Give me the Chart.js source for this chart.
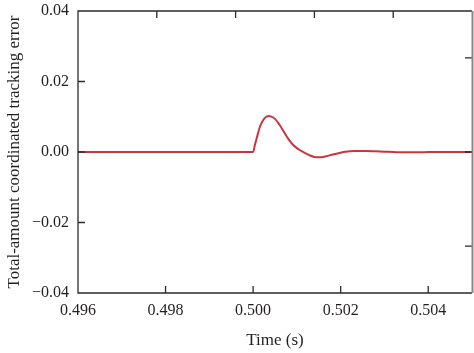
<!DOCTYPE html>
<html>
<head>
<meta charset="utf-8">
<script src="https://cdn.jsdelivr.net/npm/chart.js@4"></script>
<style>
  html, body { margin: 0; padding: 0; background: #fff; }
  #wrap { width: 474px; height: 353px; }
</style>
</head>
<body>
<div id="wrap"><canvas id="error-chart" width="474" height="353"></canvas></div>
<script>
// Datos
const times = [
  0.496, 0.4995, 0.5, 0.50004, 0.50008, 0.50012, 0.50016, 0.5002, 0.50025,
  0.5003, 0.50036, 0.5004, 0.5005, 0.5006, 0.5007, 0.5008, 0.5009, 0.501,
  0.5011, 0.5012, 0.5013, 0.5014, 0.5015, 0.5016, 0.5017, 0.5018, 0.5019,
  0.502, 0.5021, 0.5022, 0.5023, 0.5024, 0.5025, 0.5026, 0.5028, 0.503,
  0.5032, 0.5034, 0.5036, 0.5038, 0.504, 0.505
];
const errors = [
  0, 0, 0, 0.002, 0.0038, 0.0057, 0.0073, 0.0084, 0.0094,
  0.01, 0.0102, 0.0101, 0.0094, 0.0078, 0.0058, 0.0038, 0.0022, 0.0011,
  0.0003, -0.0004, -0.001, -0.0014, -0.0015, -0.0014, -0.0011, -0.0008, -0.0005,
  -0.0002, 0.0001, 0.0002, 0.0003, 0.0003, 0.0003, 0.0003, 0.0002, 0.0001,
  0, -0.0001, -0.0001, -0.0001, 0, 0
];

// Ejes
const xTicks = [0.496, 0.498, 0.5, 0.502, 0.504];
const xTopTicks = [0.4978, 0.4996, 0.5014, 0.5032];
const yTicks = [-0.04, -0.02, 0, 0.02, 0.04];
const yRightTicks = [-0.0267, 0, 0.0267];

const serif = "'Liberation Serif', 'DejaVu Serif', serif";
const textColor = "#231f20";

// Marco y marcas hacia adentro
const framePlugin = {
  id: "frame",
  afterDatasetsDraw(chart) {
    const { ctx, chartArea: a, scales } = chart;
    const len = 7;
    ctx.save();
    ctx.strokeStyle = "#2b2b2b";
    ctx.lineWidth = 1.3;
    ctx.beginPath();
    ctx.moveTo(a.right, a.top);
    ctx.lineTo(a.left, a.top);
    ctx.lineTo(a.left, a.bottom);
    ctx.lineTo(a.right, a.bottom);
    xTicks.forEach((v) => {
      const px = scales.x.getPixelForValue(v);
      ctx.moveTo(px, a.bottom);
      ctx.lineTo(px, a.bottom - len);
    });
    xTopTicks.forEach((v) => {
      const px = scales.x.getPixelForValue(v);
      ctx.moveTo(px, a.top);
      ctx.lineTo(px, a.top + len);
    });
    yTicks.forEach((v) => {
      const py = scales.y.getPixelForValue(v);
      ctx.moveTo(a.left, py);
      ctx.lineTo(a.left + len, py);
    });
    yRightTicks.forEach((v) => {
      const py = scales.y.getPixelForValue(v);
      ctx.moveTo(a.right, py);
      ctx.lineTo(a.right - len, py);
    });
    ctx.stroke();
    ctx.strokeStyle = "#888";
    ctx.lineWidth = 2;
    ctx.beginPath();
    ctx.moveTo(a.right + 0.5, a.top);
    ctx.lineTo(a.right + 0.5, a.bottom);
    ctx.stroke();
    ctx.restore();
  },
};

function initChart() {
  const ctx = document.getElementById("error-chart").getContext("2d");
  new Chart(ctx, {
    type: "scatter",
    data: {
      datasets: [
        {
          data: times.map((t, i) => ({ x: t, y: errors[i] })),
          showLine: true,
          borderColor: "#c8353f",
          borderWidth: 2,
          pointRadius: 0,
          cubicInterpolationMode: "monotone",
        },
      ],
    },
    options: {
      responsive: false,
      animation: false,
      layout: { padding: { top: 11, right: 2, left: 0, bottom: 0 } },
      plugins: { legend: { display: false }, tooltip: { enabled: false } },
      scales: {
        x: {
          type: "linear",
          min: 0.496,
          max: 0.505,
          afterBuildTicks: (scale) => {
            scale.ticks = xTicks.map((v) => ({ value: v }));
          },
          afterFit: (scale) => {
            scale.height = 60;
            scale.paddingLeft = 0;
            scale.paddingRight = 0;
          },
          grid: { display: false, drawTicks: false },
          border: { display: false },
          ticks: {
            padding: 8,
            maxRotation: 0,
            autoSkip: false,
            color: textColor,
            font: { family: serif, size: 16 },
            callback: (v) => v.toFixed(3),
          },
          title: {
            display: true,
            text: "Time (s)",
            color: textColor,
            font: { family: serif, size: 17 },
            padding: { top: 0, bottom: 2 },
          },
        },
        y: {
          type: "linear",
          min: -0.04,
          max: 0.04,
          afterBuildTicks: (scale) => {
            scale.ticks = yTicks.map((v) => ({ value: v }));
          },
          afterFit: (scale) => {
            scale.width = 78;
            scale.paddingTop = 0;
            scale.paddingBottom = 0;
          },
          grid: { display: false, drawTicks: false },
          border: { display: false },
          ticks: {
            padding: 9,
            color: textColor,
            font: { family: serif, size: 16 },
            callback: (v) => (v < 0 ? "\u2212" + Math.abs(v).toFixed(2) : v.toFixed(2)),
          },
          title: {
            display: true,
            text: "Total-amount coordinated tracking error",
            color: textColor,
            font: { family: serif, size: 17 },
            padding: { top: 4, bottom: 0 },
          },
        },
      },
    },
    plugins: [framePlugin],
  });
}

window.onload = function () {
  initChart();
};
</script>
</body>
</html>
